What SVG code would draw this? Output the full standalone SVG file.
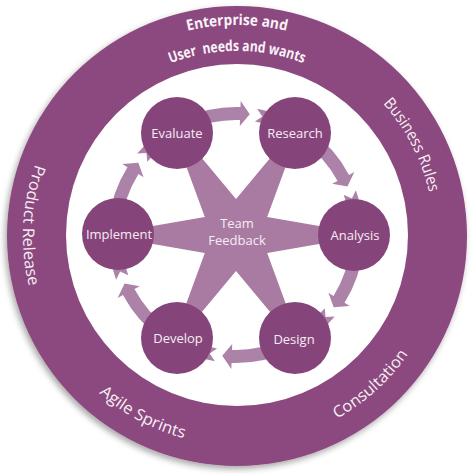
<svg xmlns="http://www.w3.org/2000/svg" xmlns:xlink="http://www.w3.org/1999/xlink" width="474" height="474" viewBox="0 0 474 474">
<style>
.ring{fill:#8b4a7f}
.node{fill:#86457a}
.star{fill:#a97ba3}
.arrow{fill:#ad82a8}
.nt{font-family:"Open Sans","Noto Sans",sans-serif;font-size:13px;fill:#f7ecf5;text-anchor:middle}
.rt{font-family:"Open Sans","Noto Sans",sans-serif;font-size:16px;fill:#f8eef6;text-anchor:middle}
.bt{font-family:"Open Sans","Noto Sans",sans-serif;font-size:15px;font-weight:bold;fill:#fbf3f9;text-anchor:middle;white-space:pre}
</style>
<defs>
<filter id="sh" x="-10%" y="-10%" width="120%" height="120%">
<feDropShadow dx="-2" dy="3" stdDeviation="3" flood-color="#000" flood-opacity="0.35"/>
</filter>
<path id="piece" d="M128,0 A128,128 0 0 1 77.92,101.55 L81.57,106.31 L66.17,101.90 L66.35,86.48 L70.01,91.24 A115,115 0 0 0 115,0 L121.33,6.36 Z"/>
<path id="pBR" d="M335.5,65.39 A197,197 0 0 1 433.25,253.17"/>
<path id="pCO" d="M280.25,439.46 A208,208 0 0 0 434.82,300.28"/>
<path id="pAS" d="M59.76,346.75 A209,209 0 0 0 244.29,444.87"/>
<path id="pPR" d="M57.52,119.45 A214,214 0 0 0 46.32,333.15"/>
<path id="pT1" d="M101.37,74.37 A211,211 0 0 1 372.63,74.37"/>
<path id="pT2" d="M118.08,94.28 A185,185 0 0 1 355.92,94.28"/>
</defs>
<g id="outer-ring">
<circle class="ring" cx="237" cy="236" r="230" filter="url(#sh)"/>
<circle cx="237" cy="235" r="171" fill="#ffffff"/>
<text class="bt"><textPath href="#pT1" startOffset="50%" textLength="100" lengthAdjust="spacingAndGlyphs">Enterprise and</textPath></text>
<text class="bt"><textPath href="#pT2" startOffset="50%" textLength="136" lengthAdjust="spacingAndGlyphs">User  needs and wants</textPath></text>
<text class="rt"><textPath href="#pBR" startOffset="50%" textLength="101" lengthAdjust="spacingAndGlyphs">Business Rules</textPath></text>
<text class="rt"><textPath href="#pCO" startOffset="50%" textLength="97" lengthAdjust="spacingAndGlyphs">Consultation</textPath></text>
<text class="rt"><textPath href="#pAS" startOffset="50%" textLength="97" lengthAdjust="spacingAndGlyphs">Agile Sprints</textPath></text>
<text class="rt"><textPath href="#pPR" startOffset="50%" textLength="124" lengthAdjust="spacingAndGlyphs">Product Release</textPath></text>
</g>
<g id="connectors">
<use href="#piece" class="arrow" transform="translate(236,235) rotate(-140.5)"/>
<use href="#piece" class="arrow" transform="translate(236,235) rotate(-80.5)"/>
<use href="#piece" class="arrow" transform="translate(236,235) rotate(-20.5)"/>
<use href="#piece" class="arrow" transform="translate(236,235) rotate(39.5)"/>
<use href="#piece" class="arrow" transform="translate(236,235) rotate(99.5)"/>
<use href="#piece" class="arrow" transform="translate(236,235) rotate(159.5)"/>
</g>
<g id="team-feedback">
<path class="star" d="M236,199 L303.5,118.09 L267.18,217 L371,235 L267.18,253 L303.5,351.91 L236,271 L168.5,351.91 L204.82,253 L101,235 L204.82,217 L168.5,118.09 Z"/>
<text class="nt" x="237" y="227.5">Team</text>
<text class="nt" x="237" y="245">Feedback</text>
</g>
<g id="evaluate"><circle class="node" cx="177" cy="133" r="36"/><text class="nt" x="177" y="137.5">Evaluate</text></g>
<g id="research"><circle class="node" cx="295" cy="133" r="36"/><text class="nt" x="295" y="137.5">Research</text></g>
<g id="analysis"><circle class="node" cx="354" cy="235" r="36"/><text class="nt" x="355" y="240">Analysis</text></g>
<g id="design"><circle class="node" cx="295" cy="338" r="36"/><text class="nt" x="294" y="344">Design</text></g>
<g id="develop"><circle class="node" cx="177" cy="338" r="36"/><text class="nt" x="178" y="343">Develop</text></g>
<g id="implement"><circle class="node" cx="118" cy="234" r="36"/><text class="nt" x="119" y="239">Implement</text></g>
</svg>
